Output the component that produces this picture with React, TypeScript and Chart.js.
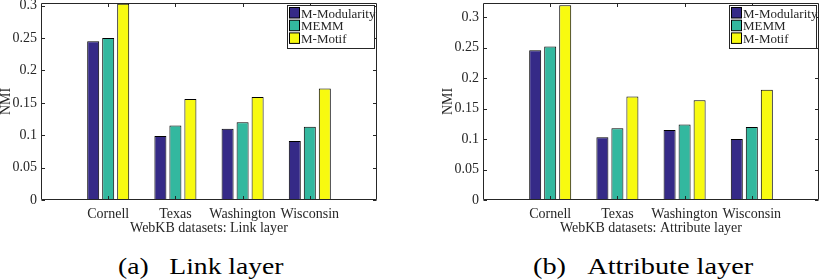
import React, { useEffect, useRef } from 'react';
import { Chart, registerables } from 'chart.js';

Chart.register(...registerables);

// ---------- data ----------
const categories = ['Cornell', 'Texas', 'Washington', 'Wisconsin'];
const seriesNames = ['M-Modularity', 'MEMM', 'M-Motif'];
const seriesColors = ['#352a87', '#33b89f', '#f8fa10'];

const linkModularity = [0.245, 0.099, 0.110, 0.091];
const linkMEMM = [0.250, 0.115, 0.120, 0.113];
const linkMotif = [0.303, 0.156, 0.159, 0.172];

const attrModularity = [0.246, 0.103, 0.115, 0.100];
const attrMEMM = [0.252, 0.118, 0.124, 0.120];
const attrMotif = [0.320, 0.170, 0.164, 0.181];

const yTickValues = [0, 0.05, 0.1, 0.15, 0.2, 0.25, 0.3];
const linkYMax = 0.3042;
const attrYMax = 0.3235;

const yTitle = 'NMI';
const linkXTitle = 'WebKB datasets: Link layer';
const attrXTitle = 'WebKB datasets: Attribute layer';
const linkCaption = ['(a)', 'Link layer'];
const attrCaption = ['(b)', 'Attribute layer'];

// ---------- style ----------
const FONT = "'Times New Roman', Times, serif";
const AXIS = '#262626';
const TEXT = '#262626';

type PanelProps = {
  series: number[][];
  yMax: number;
  xTitle: string;
  leftWidth: number;
  rightPad: number;
  width: number;
  left: number;
};

function zeroPad(s: any) {
  s.paddingTop = 0;
  s.paddingBottom = 0;
  s.paddingLeft = 0;
  s.paddingRight = 0;
}

function BarPanel({ series, yMax, xTitle, leftWidth, rightPad, width, left }: PanelProps) {
  const ref = useRef<HTMLCanvasElement | null>(null);

  useEffect(() => {
    if (!ref.current) return;
    const labels = ['', ...categories, ''];
    const decor = {
      id: 'matlabDecor',
      afterDraw(chart: any) {
        const { ctx, chartArea: a, scales } = chart;
        const xs = scales.x;
        const ys = scales.y;
        ctx.save();
        ctx.strokeStyle = AXIS;
        ctx.lineWidth = 1;
        const L = Math.round(a.left) + 0.5;
        const R = Math.round(a.right) - 0.5;
        const T = Math.round(a.top) + 0.5;
        const B = Math.round(a.bottom) - 0.5;
        ctx.beginPath();
        ctx.rect(L, T, R - L, B - T);
        // y ticks (inward, both sides)
        yTickValues.forEach((v) => {
          const py = Math.round(ys.getPixelForValue(v)) + 0.5;
          ctx.moveTo(L, py);
          ctx.lineTo(L + 3.5, py);
          ctx.moveTo(R, py);
          ctx.lineTo(R - 3.5, py);
        });
        // x ticks (inward, top and bottom)
        categories.forEach((_, i) => {
          const px = Math.round(xs.getPixelForValue(i + 1)) + 0.5;
          ctx.moveTo(px, B);
          ctx.lineTo(px, B - 3.5);
          ctx.moveTo(px, T);
          ctx.lineTo(px, T + 3.5);
        });
        ctx.stroke();

        // axis titles
        ctx.fillStyle = TEXT;
        ctx.font = `14px ${FONT}`;
        ctx.textAlign = 'center';
        ctx.textBaseline = 'alphabetic';
        ctx.fillText(xTitle, (a.left + a.right) / 2, 232);
        ctx.save();
        ctx.translate(a.left - 31, (a.top + a.bottom) / 2);
        ctx.rotate(-Math.PI / 2);
        ctx.fillText(yTitle, 0, 0);
        ctx.restore();

        // legend
        const lw = 87;
        const lh = 43;
        const lx = Math.round(a.right - 3 - lw) + 0.5;
        const ly = Math.round(a.top + 2) + 0.5;
        ctx.fillStyle = '#ffffff';
        ctx.fillRect(lx, ly, lw, lh);
        ctx.strokeStyle = AXIS;
        ctx.strokeRect(lx, ly, lw, lh);
        ctx.font = `13px ${FONT}`;
        ctx.textAlign = 'left';
        ctx.textBaseline = 'alphabetic';
        seriesNames.forEach((name, i) => {
          const sy = ly + 2 + i * 12.7;
          ctx.fillStyle = seriesColors[i];
          ctx.fillRect(lx + 2, sy, 10, 10.5);
          ctx.strokeStyle = '#000000';
          ctx.strokeRect(lx + 2, sy, 10, 10.5);
          ctx.fillStyle = TEXT;
          ctx.fillText(name, lx + 13.5, sy + 10);
        });
        ctx.restore();
      },
    };

    const chart = new Chart(ref.current, {
      type: 'bar',
      data: {
        labels,
        datasets: series.map((vals, i) => ({
          label: seriesNames[i],
          data: [null, ...vals, null],
          backgroundColor: seriesColors[i],
          borderColor: '#000000',
          borderWidth: 1,
          categoryPercentage: 0.67,
          barPercentage: 0.8,
        })),
      },
      options: {
        responsive: false,
        animation: false,
        events: [],
        layout: { padding: { top: 3, right: rightPad, bottom: 0, left: 0 } },
        plugins: { legend: { display: false }, tooltip: { enabled: false } },
        scales: {
          x: {
            type: 'category',
            offset: false,
            grid: { display: false, drawTicks: false },
            border: { display: false },
            ticks: {
              autoSkip: false,
              maxRotation: 0,
              padding: 6,
              color: TEXT,
              font: { family: FONT, size: 14 },
            },
            afterFit: (s: any) => {
              s.height = 40;
              zeroPad(s);
            },
          },
          y: {
            min: 0,
            max: yMax,
            grid: { display: false, drawTicks: false },
            border: { display: false },
            ticks: {
              padding: 4,
              color: TEXT,
              font: { family: FONT, size: 14 },
              callback: (v: any) => String(v),
            },
            afterBuildTicks: (s: any) => {
              s.ticks = yTickValues.map((v) => ({ value: v }));
            },
            afterFit: (s: any) => {
              s.width = leftWidth;
              zeroPad(s);
            },
          },
        },
      },
      plugins: [decor],
    } as any);
    return () => chart.destroy();
  }, []);

  return (
    <canvas
      ref={ref}
      width={width}
      height={240}
      style={{ position: 'absolute', left, top: 0, width, height: 240, display: 'block' }}
    />
  );
}

function Caption({ parts, left, scale }: { parts: string[]; left: number; scale: number }) {
  return (
    <div
      style={{
        position: 'absolute',
        left,
        top: 254,
        fontFamily: FONT,
        fontSize: 24,
        lineHeight: '24px',
        color: '#000',
        whiteSpace: 'nowrap',
        transform: `scaleX(${scale})`,
        transformOrigin: 'left top',
      }}
    >
      <span>{parts[0]}</span>
      <span style={{ marginLeft: 18 }}>{parts[1]}</span>
    </div>
  );
}

export default function App() {
  return (
    <div
      style={{
        position: 'absolute',
        left: 0,
        top: 0,
        width: 821,
        height: 279,
        background: '#fff',
        overflow: 'hidden',
      }}
    >
      <BarPanel
        series={[linkModularity, linkMEMM, linkMotif]}
        yMax={linkYMax}
        xTitle={linkXTitle}
        leftWidth={41}
        rightPad={33}
        width={410}
        left={0}
      />
      <BarPanel
        series={[attrModularity, attrMEMM, attrMotif]}
        yMax={attrYMax}
        xTitle={attrXTitle}
        leftWidth={73}
        rightPad={2}
        width={411}
        left={410}
      />
      <Caption parts={linkCaption} left={118} scale={1.15} />
      <Caption parts={attrCaption} left={533} scale={1.18} />
    </div>
  );
}
